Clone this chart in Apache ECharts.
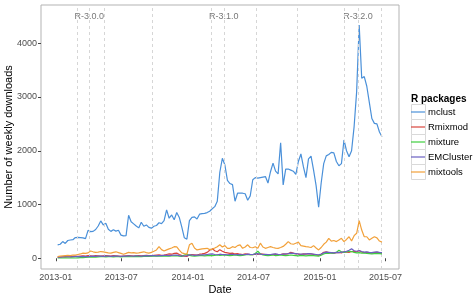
<!DOCTYPE html>
<html><head><meta charset="utf-8">
<script src="https://cdn.jsdelivr.net/npm/echarts@6/dist/echarts.min.js"></script>
<style>html,body{margin:0;padding:0;background:#fff}#c{width:474px;height:299px}</style>
</head><body><div id="c"></div>
<script>
const firstWeek = '2013-01-06';
const weekCount = 129;
const seriesNames = ['mclust', 'Rmixmod', 'mixture', 'EMCluster', 'mixtools'];
const mclust = [250,260,310,275,330,340,345,385,390,385,
380,365,520,495,500,535,600,695,620,650,
540,500,530,505,520,430,415,420,800,680,
640,600,565,670,595,620,575,560,595,610,
660,645,700,900,745,805,715,850,760,580,
380,355,700,760,770,730,820,830,835,850,
875,920,960,1060,1600,1860,1735,1450,1390,1370,
1060,1210,1210,1210,1200,1080,1160,1460,1500,1490,
1500,1510,1520,1400,1610,1770,1620,1570,2150,1365,
1660,1660,1640,1620,1560,1800,1940,1700,1500,1850,
1900,1640,1350,950,1400,1760,1905,1930,1970,1960,
1800,1720,1760,2200,2000,1890,2000,2450,3100,4340,
3350,3380,3200,2900,2600,2510,2500,2350,2260];
const rmixmod = [15,20,25,30,25,30,35,40,35,40,
45,40,50,45,40,50,45,40,45,50,
45,40,50,45,40,35,40,45,50,45,
40,45,50,45,50,55,50,45,55,60,
65,55,60,70,80,75,90,95,70,50,
40,35,60,70,65,60,75,80,90,110,
150,180,140,120,160,130,110,100,90,95,
80,85,75,70,80,75,70,65,75,70,
80,75,70,65,60,70,75,65,70,80,
75,85,110,95,80,75,70,80,75,85,
80,70,60,55,75,110,120,105,100,95,
105,110,100,120,115,110,125,130,120,140,
115,105,110,100,95,105,110,100,95];
const mixture = [5,5,5,8,5,6,8,5,8,10,
12,15,20,25,22,20,25,30,28,25,
30,28,25,30,28,25,30,32,30,28,
30,35,32,30,35,38,35,40,38,40,
42,40,38,45,40,42,45,48,40,35,
60,75,55,45,40,45,50,48,45,50,
55,50,52,60,55,58,60,55,50,55,
60,55,50,55,60,70,60,65,90,130,
80,60,55,50,55,60,50,55,60,55,
50,55,60,55,50,45,55,50,45,50,
55,50,45,40,55,80,95,90,100,95,
110,150,120,110,120,130,125,110,100,105,
95,100,90,85,80,85,90,85,80];
const emcluster = [20,22,25,28,30,25,28,30,32,30,
35,32,30,35,38,35,40,38,35,40,
38,35,40,42,38,35,38,40,45,42,
40,45,42,40,45,48,45,50,48,45,
50,48,52,55,50,55,60,58,50,45,
42,50,65,60,55,58,60,65,62,70,
75,80,70,65,75,70,68,65,70,72,
65,70,68,65,70,75,72,70,80,85,
75,70,72,68,70,75,80,72,70,75,
80,85,95,90,85,80,78,75,80,85,
80,75,70,65,80,100,115,110,105,100,
110,105,115,120,130,150,175,140,130,145,
125,115,120,110,105,115,120,110,105];
const mixtools = [30,40,45,50,55,50,60,60,70,80,
95,90,100,135,120,110,115,125,120,110,
100,95,110,120,105,90,75,90,110,100,
105,95,100,110,120,105,95,110,130,155,
215,160,135,155,175,190,215,210,150,100,
85,75,250,280,190,155,165,175,180,185,
160,170,190,215,250,210,235,185,185,215,
200,235,250,185,210,250,200,195,215,185,
280,210,185,200,215,200,190,185,200,220,
260,310,270,260,280,300,235,225,215,210,
200,235,190,155,200,260,300,370,320,330,
310,340,370,310,350,400,320,420,465,700,
525,400,400,340,370,400,380,320,300];
const releaseDates = ['2013-03-01','2013-04-03','2013-05-16','2013-09-25','2014-03-06','2014-04-10','2014-07-10','2014-10-31','2015-03-09','2015-04-16','2015-06-18'];
const releaseLabels = ['', 'R-3.0.0', '', '', '', 'R-3.1.0', '', '', '', 'R-3.2.0', ''];
const releaseLabelY = 4490;
const yTicks = [0, 1000, 2000, 3000, 4000];
const xTicks = ['2013-01-01','2013-07-01','2014-01-01','2014-07-01','2015-01-01','2015-07-01'];
const colors = ['#4a90d9', '#d9443c', '#3fcf3f', '#6a5fc2', '#f2a13a'];

function ts(s) { const p = s.split('-').map(Number); return Date.UTC(p[0], p[1] - 1, p[2]); }
const DAY = 86400000;
const weeks = [];
for (let i = 0; i < weekCount; i++) weeks.push(ts(firstWeek) + i * 7 * DAY);
const allValues = [mclust, rmixmod, mixture, emcluster, mixtools];
function pad(n) { return n < 10 ? '0' + n : '' + n; }

const chart = echarts.init(document.getElementById('c'), null, {renderer: 'canvas'});
const lineSeries = seriesNames.map((name, k) => ({
  name: name, type: 'line', symbol: 'none', z: 3 + k,
  data: weeks.map((w, i) => [w, allValues[k][i]]),
  lineStyle: {width: 1.2, color: colors[k]}, itemStyle: {color: colors[k]}
}));
const labelData = [];
releaseDates.forEach((d, i) => { if (releaseLabels[i]) labelData.push([ts(d), releaseLabelY, releaseLabels[i]]); });

const legendTop = 105, legendLeft = 411, keyH = 15;
const lineIcon = 'path://M0,0 M14,14 M0,6.4 L14,6.4 L14,7.6 L0,7.6 Z';
chart.setOption({
  animation: false,
  textStyle: {fontFamily: 'Liberation Sans, Arial, sans-serif'},
  title: {text: 'R packages', left: 411, top: 94, padding: 0,
    textStyle: {fontSize: 10, fontWeight: 'bold', color: '#000'}},
  legend: {data: seriesNames.map(n => ({name: n, icon: lineIcon})), orient: 'vertical', left: legendLeft, top: legendTop, padding: 0,
    itemWidth: 14, itemHeight: 14, itemGap: 1, z: 10,
    textStyle: {fontSize: 9.5, color: '#000', padding: [0, 0, 0, -2]}},
  graphic: seriesNames.map((n, i) => ({type: 'rect', z: 1,
    shape: {x: legendLeft + 0.5, y: legendTop + i * keyH - 0.5, width: 14, height: keyH},
    style: {fill: '#fff', stroke: '#d9d9d9', lineWidth: 1}})),
  grid: {left: 41, right: 75, top: 5, bottom: 30, show: true, borderColor: '#b3b3b3', borderWidth: 1,
    containLabel: false, outerBoundsMode: 'none'},
  xAxis: {type: 'value', min: ts('2012-11-21'), max: ts('2015-08-07'),
    name: 'Date', nameLocation: 'middle', nameGap: 15, nameMoveOverlap: false,
    nameTextStyle: {fontSize: 11, color: '#000'},
    axisLine: {show: false}, splitLine: {show: false},
    axisTick: {show: true, length: 3, customValues: xTicks.map(ts), lineStyle: {color: '#444'}},
    axisLabel: {customValues: xTicks.map(ts), fontSize: 9, color: '#4d4d4d', margin: 4,
      formatter: v => { const d = new Date(v); return d.getUTCFullYear() + '-' + pad(d.getUTCMonth() + 1); }}},
  yAxis: {type: 'value', min: -200, max: 4712,
    name: 'Number of weekly downloads', nameLocation: 'middle', nameGap: 27, nameRotate: 90, nameMoveOverlap: false,
    nameTextStyle: {fontSize: 11, color: '#000'},
    axisLine: {show: false}, splitLine: {show: false},
    axisTick: {show: true, length: 3, customValues: yTicks, lineStyle: {color: '#444'}},
    axisLabel: {customValues: yTicks, fontSize: 9, color: '#4d4d4d', margin: 4, formatter: v => String(v)}},
  series: [{
    type: 'scatter', symbolSize: 0, silent: true, z: 2,
    data: labelData,
    label: {show: true, position: 'inside', formatter: p => p.value[2], fontSize: 9, color: '#555'},
    markLine: {silent: true, symbol: 'none', label: {show: false},
      lineStyle: {type: [3, 3], color: '#d6d6d6', width: 1},
      data: releaseDates.map(d => ({xAxis: ts(d)}))}
  }].concat(lineSeries)
});
</script></body></html>
